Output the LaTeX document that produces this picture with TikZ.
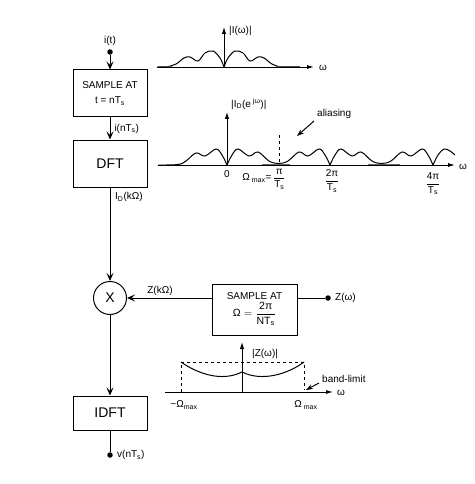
\documentclass[tikz,border=0pt]{standalone}
\usepackage{amsmath}
\usepackage{fontspec}
\setmainfont{Liberation Sans}
\usetikzlibrary{arrows.meta}
\newcommand{\myfr}[2]{$\dfrac{\text{#1}}{\text{#2}}$}
\tikzset{
  blk/.style={draw, line width=1pt, minimum width=74pt, minimum height=47pt, inner sep=0pt, align=center, font=\fontsize{10}{12}\selectfont},
  bigblk/.style={blk, font=\fontsize{14}{16}\selectfont},
  dotn/.style={circle, fill, inner sep=0pt, minimum size=5.5pt},
  lbl/.style={inner sep=1pt, font=\fontsize{10}{12}\selectfont},
  flow/.style={line width=1pt, -{Stealth[length=8pt,width=7pt,inset=3.5pt]}},
  wire/.style={line width=1pt},
  axis/.style={line width=0.9pt, -{Latex[length=7pt,width=4pt]}},
  curve/.style={line width=1pt},
  thinarrow/.style={line width=1pt, -{Latex[length=7pt,width=4.5pt]}},
}
\begin{document}
\begin{tikzpicture}[x=1pt,y=-1pt]
\useasboundingbox (0,0) rectangle (474,484);

% ---------------- block chain ----------------
\node[dotn] (it) at (110,52) {};
\node[lbl, anchor=south] (itl) at (110,47) {i(t)};
\node[blk] (s1) at (110,93.5) {SAMPLE AT\\[3pt] t = nT\textsubscript{s}};
\node[bigblk] (dft) at (110,163.5) {DFT};
\node[draw, circle, line width=1pt, minimum size=33pt, inner sep=0pt, font=\fontsize{14}{16}\selectfont] (mx) at (110,298) {X};
\node[blk, minimum width=85pt, minimum height=51pt] (s2) at (254.5,309.5) {SAMPLE AT\\[1pt] {\fontsize{10.5}{12}\selectfont$\text{Ω}=\dfrac{\text{2π}}{\text{NT\textsubscript{s}}}$}};
\node[dotn] (zw) at (328,298) {};
\node[lbl, anchor=west] (zwl) at (334,298) {Z(ω)};
\node[bigblk, minimum height=34pt] (idft) at (110,413) {IDFT};
\node[dotn] (vn) at (110,455) {};
\node[lbl, anchor=west] (vnl) at (116,455) {v(nT\textsubscript{s})};

\draw[flow] (it) -- (s1.north);
\draw[flow] (s1.south) -- (dft.north) node[lbl, pos=0.5, anchor=west, xshift=3pt] {i(nT\textsubscript{s})};
\draw[flow] (dft.south) -- (mx.north);
\node[lbl, anchor=west] (idl) at (114,197) {I\textsubscript{D}(kΩ)};
\draw[flow] (s2.west |- mx) -- (mx.east);
\node[lbl, anchor=south] (zkl) at (160,297) {Z(kΩ)};
\draw[wire] (s2.east |- zw) -- (zw);
\draw[flow] (mx.south) -- (idft.north);
\draw[wire] (idft.south) -- (vn);

% ---------------- top spectrum |I(w)| ----------------
\draw[axis] (157,67) -- (314,67);
\node[lbl, anchor=west] at (318,68) {ω};
\draw[thinarrow] (224,67) -- (224,27);
\node[lbl, anchor=west] at (228,31) {|I(ω)|};
\draw[curve] plot[smooth, tension=0.6] coordinates {(224,67) (228,58) (235,51) (243,53) (250,61) (258,57) (264,58) (272,64) (282,67) (300,67)};
\draw[curve] plot[smooth, tension=0.6] coordinates {(224,67) (220,58) (213,51) (205,53) (198,61) (190,57) (184,58) (176,64) (166,67) (157,67)};
\draw[line width=1.5pt, black!70] (158,66.5) -- (172,66.5);
\draw[line width=1.5pt, black!70] (276,66.5) -- (300,66.5);

% ---------------- middle spectrum |I_D(e^jw)| ----------------
\draw[axis] (158,165) -- (455,165);
\node[lbl, anchor=west] at (458,167) {ω};
\draw[thinarrow] (227,165) -- (227,112);
\node[lbl, anchor=west] at (230,104) {|I\textsubscript{D}(e\textsuperscript{ jω})|};
\draw[curve] plot[smooth, tension=0.6] coordinates {(227,165) (222,155) (216,149) (205,156) (196,153) (186,161) (178,164.5) (158,165)};
\foreach \c in {227,330} {
  \draw[curve] plot[smooth, tension=0.6] coordinates {(\c,165) ({\c+5},155) ({\c+11},149) ({\c+22},156) ({\c+31},152) ({\c+42},161) ({\c+51.5},163.5) ({\c+61},161) ({\c+72},152) ({\c+81},156) ({\c+92},149) ({\c+98},155) ({\c+103},165)};
}
\draw[curve] plot[smooth, tension=0.6] coordinates {(433,165) (438,155) (444,149) (450,151) (455,155)};
\draw[line width=1.6pt, black!60] (262,164.5) -- (290,164.5);
\draw[line width=1.6pt, black!60] (368,164.5) -- (400,164.5);
\draw[line width=0.9pt, dashed] (279,135) -- (279,165);
\node[lbl, anchor=west] (alias) at (316,114) {aliasing};
\draw[line width=1pt, -{Stealth[length=7pt,width=5pt]}] (314,121) -- (297,136);
\node[lbl] at (227,174) {0};
\node[lbl] at (264,179) {Ω\textsubscript{ max}=\,{\fontsize{10}{11}\selectfont\myfr{π}{T\textsubscript{s}}}};
\node[lbl] at (332,181) {{\fontsize{10}{11}\selectfont\myfr{2π}{T\textsubscript{s}}}};
\node[lbl] at (433,184) {{\fontsize{10}{11}\selectfont\myfr{4π}{T\textsubscript{s}}}};

% ---------------- bottom spectrum |Z(w)| ----------------
\draw[axis] (165,392) -- (333,392);
\node[lbl, anchor=west] at (336,393) {ω};
\draw[thinarrow] (242,392) -- (242,342);
\node[lbl, anchor=west] at (251,354) {|Z(ω)|};
\draw[line width=0.9pt, dashed] (181,392) -- (181,362) -- (304,362) -- (304,390);
\draw[curve] (181,362) .. controls (198,374) and (222,382) .. (242,372) .. controls (262,382) and (288,374) .. (304,362);
\node[lbl, anchor=west] at (321,379) {band-limit};
\draw[line width=1pt, -{Stealth[length=7pt,width=5pt]}] (319,383) -- (306,390);
\node[lbl] at (184,405) {−Ω\textsubscript{max}};
\node[lbl] at (306,405) {Ω\textsubscript{ max}};
\end{tikzpicture}
\end{document}
